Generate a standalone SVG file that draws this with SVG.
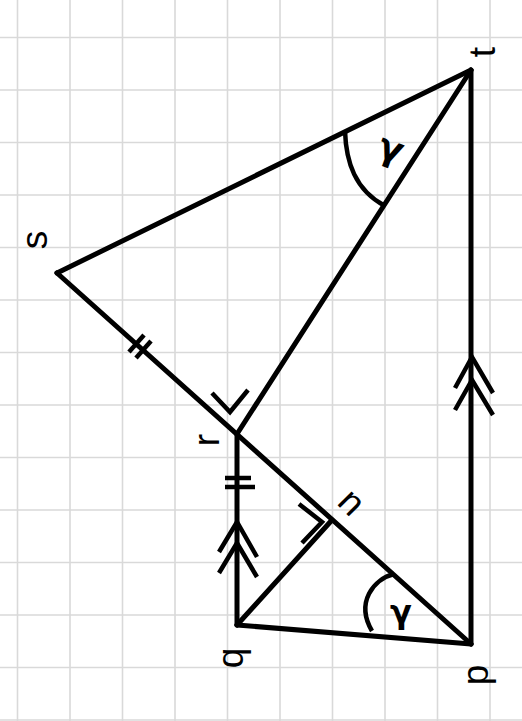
<svg xmlns="http://www.w3.org/2000/svg" width="522" height="721" viewBox="0 0 522 721">
<style>
.grid line{stroke:#d9d9d9;stroke-width:1.6}
.ln{stroke:#000;stroke-width:5;stroke-linecap:round;stroke-linejoin:round;fill:none}
.mk{stroke:#000;stroke-width:4.5;stroke-linecap:butt;stroke-linejoin:miter;fill:none}
.lbl{font-family:"Liberation Sans",Arial,sans-serif;font-size:37px;fill:#000;text-anchor:middle}
.gm{font-family:"DejaVu Sans",sans-serif;font-weight:bold;fill:#000;text-anchor:middle}
</style>
<rect width="522" height="721" fill="#fff"/>
<g class="grid">
<line x1="17.5" y1="0" x2="17.5" y2="721"/><line x1="70" y1="0" x2="70" y2="721"/><line x1="122.5" y1="0" x2="122.5" y2="721"/><line x1="175" y1="0" x2="175" y2="721"/><line x1="227.5" y1="0" x2="227.5" y2="721"/><line x1="280" y1="0" x2="280" y2="721"/><line x1="332.5" y1="0" x2="332.5" y2="721"/><line x1="385" y1="0" x2="385" y2="721"/><line x1="437.5" y1="0" x2="437.5" y2="721"/><line x1="490" y1="0" x2="490" y2="721"/>
<line x1="0" y1="37.5" x2="522" y2="37.5"/><line x1="0" y1="90" x2="522" y2="90"/><line x1="0" y1="142.5" x2="522" y2="142.5"/><line x1="0" y1="195" x2="522" y2="195"/><line x1="0" y1="247.5" x2="522" y2="247.5"/><line x1="0" y1="300" x2="522" y2="300"/><line x1="0" y1="352.5" x2="522" y2="352.5"/><line x1="0" y1="405" x2="522" y2="405"/><line x1="0" y1="457.5" x2="522" y2="457.5"/><line x1="0" y1="510" x2="522" y2="510"/><line x1="0" y1="562.5" x2="522" y2="562.5"/><line x1="0" y1="615" x2="522" y2="615"/><line x1="0" y1="667.5" x2="522" y2="667.5"/><line x1="0" y1="720" x2="522" y2="720"/>
</g>
<g id="connectors">
<line class="ln" x1="471" y1="70" x2="57" y2="273"/>
<line class="ln" x1="57" y1="273" x2="471" y2="644"/>
<line class="ln" x1="471" y1="70" x2="237" y2="434"/>
<line class="ln" x1="471" y1="70" x2="471" y2="644"/>
<line class="ln" x1="237" y1="625" x2="471" y2="644"/>
<line class="ln" x1="237" y1="625" x2="237" y2="434"/>
<line class="ln" x1="237" y1="625" x2="332" y2="520"/>
</g>
<g id="marks">
<line class="mk" x1="129" y1="352" x2="144" y2="335"/>
<line class="mk" x1="136" y1="358" x2="151" y2="341"/>
<line class="mk" x1="225" y1="478" x2="251" y2="478"/>
<line class="mk" x1="225" y1="487" x2="255" y2="487"/>
<polyline class="mk" points="219,552 237,522 257,557"/>
<polyline class="mk" points="219,573 237,543 257,577"/>
<polyline class="mk" points="455,388 472,357 493,393"/>
<polyline class="mk" points="455,410 472,380 493,415"/>
<polyline class="mk" points="212,393 230,412 248,390"/>
<polyline class="mk" points="299,504 322,522 302,543"/>
<path class="mk" d="M345,131 C346,162 355,190 385,206"/>
<path class="mk" d="M394,574 C374,579 355,602 372,631"/>
</g>
<g id="node-t"><text class="lbl" transform="translate(495,52) rotate(-90)">t</text></g>
<g id="node-s"><text class="lbl" transform="translate(47,240) rotate(-90)">s</text></g>
<g id="node-r"><text class="lbl" transform="translate(219,440) rotate(-90)">r</text></g>
<g id="node-q"><text class="lbl" transform="translate(243,658) rotate(-90)">q</text></g>
<g id="node-p"><text class="lbl" transform="translate(488,675) rotate(-90)">p</text></g>
<g id="node-u"><text class="lbl" transform="translate(357,497) rotate(-135)">u</text></g>
<g id="angle-t"><text class="gm" font-size="36" transform="translate(387,160) rotate(20)">γ</text></g>
<g id="angle-p"><text class="gm" font-size="32" x="401" y="623">γ</text></g>
</svg>
